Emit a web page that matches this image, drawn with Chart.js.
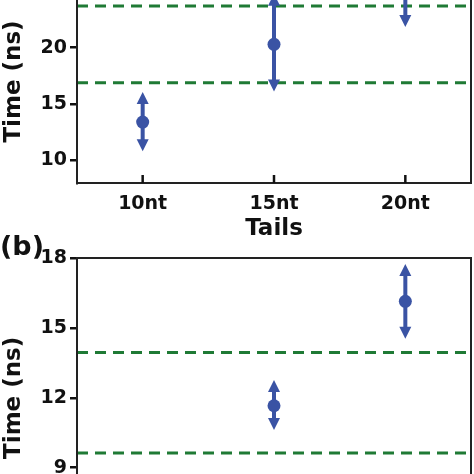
<!DOCTYPE html>
<html>
<head>
<meta charset="utf-8">
<script src="https://cdn.jsdelivr.net/npm/chart.js@4"></script>
<style>
  body { margin: 0; width: 474px; height: 474px; overflow: hidden; position: relative; background: #fff; }
  .box { position: absolute; left: 0; width: 474px; }
  #lblB { position: absolute; left: 0; top: 230px; font: bold 27px "DejaVu Sans"; color: #111; }
</style>
</head>
<body>
<div class="box" style="top:-40px;height:283px"><canvas id="topChart"></canvas></div>
<div class="box" style="top:230px;height:322px"><canvas id="botChart"></canvas></div>
<div id="lblB">(b)</div>
<script>
const tails = ['10nt', '15nt', '20nt']

// panel (a)
const topMid = [13.4, 20.3, 25.5]
const topLo = [11.0, 16.3, 22.0]
const topHi = [15.9, 24.6, 28.5]
const topLines = [23.7, 16.9]
const topTicks = [10, 15, 20, 25]

// panel (b)
const botMid = [null, 11.66, 16.14]
const botLo = [null, 10.7, 14.62]
const botHi = [null, 12.68, 17.66]
const botLines = [13.94, 9.63]
const botTicks = [9, 12, 15, 18]

const blue = '#3a53a4'
const green = '#1f7a35'
const tickFont = { family: 'DejaVu Sans', weight: 'bold', size: 19 }
const titleFont = { family: 'DejaVu Sans', weight: 'bold', size: 23 }

const extras = {
  id: 'extras',
  afterDatasetsDraw(chart, args, opts) {
    const { ctx, chartArea: a, scales: { x, y } } = chart
    ctx.save()
    ctx.beginPath(); ctx.rect(a.left, a.top, a.right - a.left, a.bottom - a.top); ctx.clip()
    // dashed reference lines
    ctx.strokeStyle = green; ctx.lineWidth = 3; ctx.setLineDash([11, 7])
    opts.lines.forEach(v => {
      const py = y.getPixelForValue(v)
      ctx.beginPath(); ctx.moveTo(a.left, py); ctx.lineTo(a.right, py); ctx.stroke()
    })
    ctx.setLineDash([])
    // error bars with arrow heads
    ctx.strokeStyle = blue; ctx.fillStyle = blue; ctx.lineWidth = 4
    opts.lo.forEach((lo, i) => {
      if (lo == null) return
      const px = x.getPixelForValue(i)
      const p1 = y.getPixelForValue(lo), p2 = y.getPixelForValue(opts.hi[i])
      ctx.beginPath(); ctx.moveTo(px, p1 - 6); ctx.lineTo(px, p2 + 6); ctx.stroke()
      ctx.beginPath(); ctx.moveTo(px, p1 + 2); ctx.lineTo(px - 6, p1 - 10); ctx.lineTo(px + 6, p1 - 10); ctx.fill()
      ctx.beginPath(); ctx.moveTo(px, p2 - 2); ctx.lineTo(px - 6, p2 + 10); ctx.lineTo(px + 6, p2 + 10); ctx.fill()
      ctx.beginPath(); ctx.arc(px, y.getPixelForValue(opts.mid[i]), 6.5, 0, Math.PI * 2); ctx.fill()
    })
    ctx.restore()
    // frame and inward x ticks
    ctx.save()
    ctx.strokeStyle = '#222'; ctx.lineWidth = 2
    ctx.strokeRect(a.left, a.top, a.right - a.left, a.bottom - a.top)
    ctx.strokeStyle = '#111'; ctx.lineWidth = 2.5
    tails.forEach((t, i) => {
      const px = x.getPixelForValue(i)
      ctx.beginPath(); ctx.moveTo(px, a.bottom); ctx.lineTo(px, a.bottom - 8); ctx.stroke()
    })
    ctx.restore()
  }
}

function makeChart(id, mid, lo, hi, lines, yMin, yMax, yTicks, padTop, showX) {
  return new Chart(document.getElementById(id), {
    type: 'scatter',
    data: { datasets: [{ data: [], pointRadius: 0 }] },
    options: {
      responsive: true, maintainAspectRatio: false, animation: false,
      layout: { padding: { top: padTop, right: 3, left: 0, bottom: 0 } },
      plugins: { legend: { display: false }, tooltip: { enabled: false }, extras: { lines, lo, hi, mid } },
      scales: {
        x: {
          type: 'linear', min: -0.5, max: 2.5,
          border: { color: '#222', width: 2 },
          grid: { display: false },
          afterBuildTicks: s => { s.ticks = [0, 1, 2].map(v => ({ value: v })) },
          ticks: { display: showX, color: '#111', font: tickFont, padding: 2, callback: v => tails[v] },
          title: { display: showX, text: 'Tails', color: '#111', font: titleFont, padding: 0 },
          afterFit: s => { s.height = showX ? 60 : 10 }
        },
        y: {
          min: yMin, max: yMax,
          border: { color: '#222', width: 2 },
          grid: { drawOnChartArea: false, color: '#111', lineWidth: 2.5, tickLength: 7 },
          afterBuildTicks: s => { s.ticks = yTicks.map(v => ({ value: v })) },
          ticks: { color: '#111', font: tickFont, padding: 3 },
          title: { display: true, text: 'Time (ns)', color: '#111', font: titleFont, padding: 0 },
          afterFit: s => { s.width = 77 }
        }
      }
    },
    plugins: [extras]
  })
}

makeChart('topChart', topMid, topLo, topHi, topLines, 8, 26, topTicks, 20, true)
makeChart('botChart', botMid, botLo, botHi, botLines, 6, 18, botTicks, 28, false)
</script>
</body>
</html>
